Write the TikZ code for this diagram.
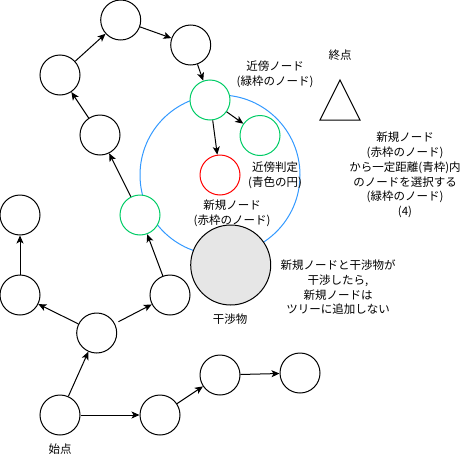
\documentclass[tikz,border=0pt]{standalone}
\usepackage{fontspec}
\setmainfont{Noto Sans CJK JP}
\usetikzlibrary{arrows.meta}
\definecolor{ngreen}{HTML}{00CC66}
\definecolor{nblue}{HTML}{3399FF}
\definecolor{nred}{HTML}{FF0000}
\definecolor{ngray}{HTML}{E6E6E6}
\begin{document}
\begin{tikzpicture}[x=1pt,y=-1pt,
  treenode/.style={circle,draw=black,fill=white,line width=1pt,minimum size=40pt,inner sep=0pt},
  nearnode/.style={treenode,draw=ngreen},
  newnode/.style={treenode,draw=nred},
  conn/.style={-{Stealth[length=8pt,width=7pt,inset=2pt]},line width=1pt},
  lbl/.style={align=center,font=\fontsize{11.5}{14.7}\selectfont,inner sep=0pt}
]
\useasboundingbox (0,0) rectangle (471,466);
% blue neighbourhood circle
\draw[nblue,line width=1pt] (220,175) circle[radius=80];
% obstacle
\node[circle,draw=black,fill=ngray,line width=1pt,minimum size=80pt,inner sep=0pt] (obs) at (230.7,265) {};
% tree nodes
\node[treenode] (start) at (60,415) {};
\node[treenode] (b2) at (160,415) {};
\node[treenode] (b3) at (220,375) {};
\node[treenode] (b4) at (300,373) {};
\node[treenode] (mid) at (96.7,333) {};
\node[treenode] (ll) at (20,295) {};
\node[treenode] (lf) at (20,215) {};
\node[treenode] (rr) at (170,295) {};
\node[nearnode] (g2) at (140,215) {};
\node[treenode] (l3) at (100,135) {};
\node[treenode] (l2) at (60,75) {};
\node[treenode] (ta) at (120.7,20) {};
\node[treenode] (tb) at (190.7,45) {};
\node[nearnode] (g1) at (210,100) {};
\node[nearnode] (gs) at (260,135.5) {};
\node[newnode] (red) at (220,175) {};
% goal
\coordinate (tri1) at (340,80);
\coordinate (tri2) at (360,120);
\coordinate (tri3) at (320,120);
\draw[line width=1pt,line join=miter] (tri1) -- (tri2) -- (tri3) -- cycle;
% connectors
\draw[conn] (start) -- (mid);
\draw[conn] (start) -- (b2);
\draw[conn] (b2) -- (b3);
\draw[conn] (b3) -- (b4);
\draw[conn] (mid) -- (ll);
\draw[conn,shorten <=4pt] (mid) -- (rr);
\draw[conn] (ll) -- (lf);
\draw[conn] (rr) -- (g2);
\draw[conn] (g2) -- (l3);
\draw[conn] (l3) -- (l2);
\draw[conn] (l2) -- (ta);
\draw[conn] (ta) -- (tb);
\draw[conn] (tb) -- (g1);
\draw[conn] (g1) -- (gs);
\draw[conn] (g1) -- (red);
% labels
\node[lbl] (tstart) at (60,449) {始点};
\node[lbl] (tobs) at (230,319) {干渉物};
\node[lbl] (tgoal) at (340,55) {終点};
\node[lbl] (tnear) at (275,74.5) {近傍ノード\\(緑枠のノード)};
\node[lbl] (tjudge) at (275,175.5) {近傍判定\\(青色の円)};
\node[lbl] (tnew) at (232,213.5) {新規ノード\\(赤枠のノード)};
\node[lbl] (tdesc) at (405,175) {新規ノード\\(赤枠のノード)\\から一定距離(青枠)内\\のノードを選択する\\(緑枠のノード)\\(4)};
\node[lbl] (tcol) at (338,287.5) {新規ノードと干渉物が\\干渉したら,\\新規ノードは\\ツリーに追加しない};
\end{tikzpicture}
\end{document}
